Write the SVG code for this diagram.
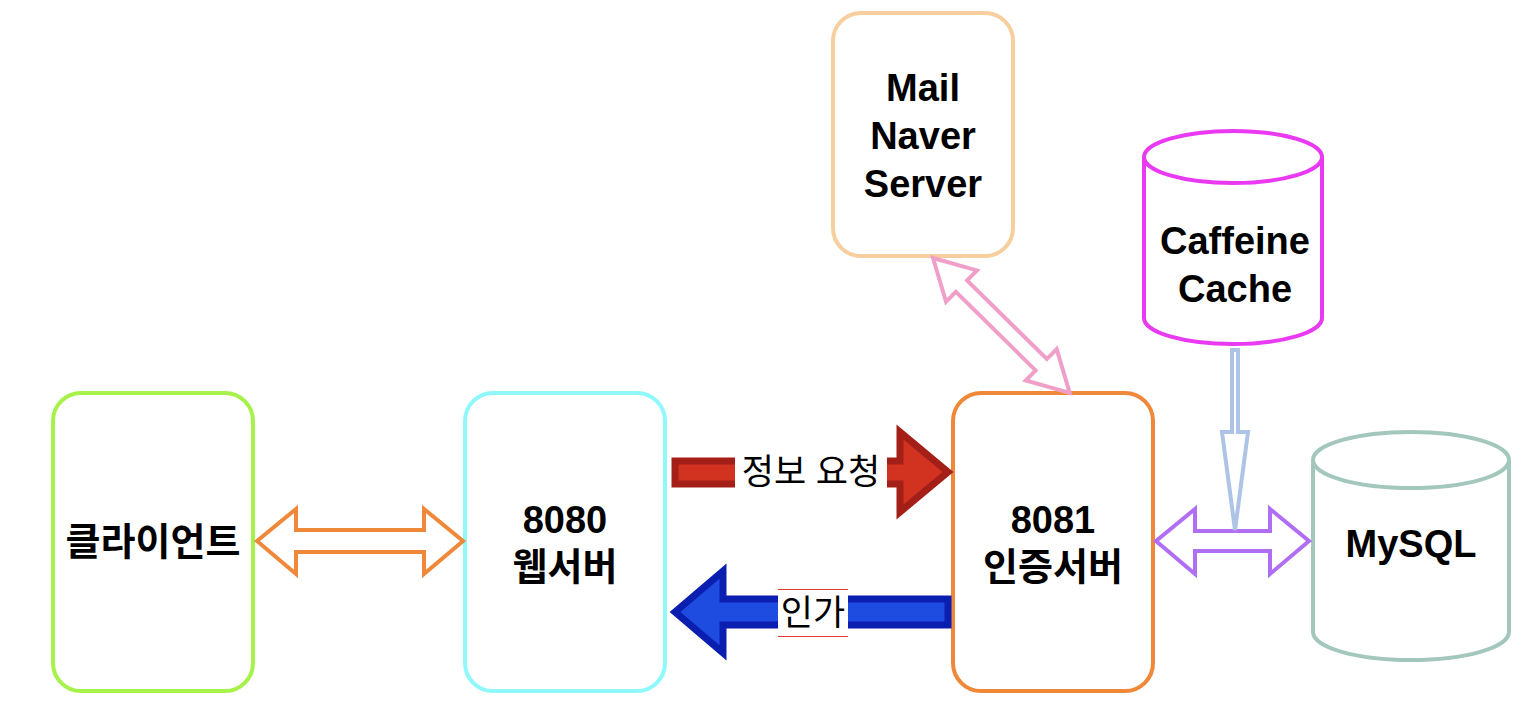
<svg xmlns="http://www.w3.org/2000/svg" width="1530" height="708" viewBox="0 0 1530 708">
<style>
.box{fill:#fff;stroke-width:4}
.t{font-family:"Liberation Sans","Noto Sans CJK KR",sans-serif;font-weight:bold;font-size:38px;text-anchor:middle;fill:#000}
.l{font-family:"Liberation Sans","Noto Sans CJK KR",sans-serif;font-size:35px;text-anchor:middle;fill:#000}
.ho{fill:#fff;stroke-width:4;stroke-linejoin:miter}
</style>
<rect width="1530" height="708" fill="#fff"/>
<g id="client"><rect class="box" x="53" y="393" width="200" height="298" rx="28" stroke="#a6f24a"/><text class="t" x="153" y="555">클라이언트</text></g>
<g id="web"><rect class="box" x="465" y="393" width="200" height="298" rx="28" stroke="#8ff8fb"/><text class="t" x="565" y="533">8080</text><text class="t" x="565" y="580">웹서버</text></g>
<g id="auth"><rect class="box" x="953" y="393" width="200" height="298" rx="28" stroke="#f0883a"/><text class="t" x="1053" y="533">8081</text><text class="t" x="1053" y="580">인증서버</text></g>
<g id="mail"><rect class="box" x="833" y="13" width="180" height="243" rx="28" stroke="#f7cf9f"/><text class="t" x="923" y="101">Mail</text><text class="t" x="923" y="149">Naver</text><text class="t" x="923" y="197">Server</text></g>
<g id="caffeine"><path class="box" stroke="#ea39f2" d="M1144,157 A89,26 0 0 1 1322,157 L1322,318 A89,26 0 0 1 1144,318 Z M1144,157 A89,26 0 0 0 1322,157"/><text class="t" x="1235" y="254">Caffeine</text><text class="t" x="1235" y="302">Cache</text></g>
<g id="mysql"><path class="box" stroke="#a3c7bd" d="M1313,460 A98,28 0 0 1 1509,460 L1509,632 A98,28 0 0 1 1313,632 Z M1313,460 A98,28 0 0 0 1509,460"/><text class="t" x="1411" y="557">MySQL</text></g>
<g id="connectors">
<polygon class="ho" stroke="#f0883a" points="257,541 296,509 296,530 424,530 424,509 463,541 424,574 424,552 296,552 296,574"/>
<polygon class="ho" stroke="#b06ef5" points="1156,541 1195,509 1195,531 1270,531 1270,509 1309,541 1270,574 1270,551 1195,551 1195,574"/>
<g transform="translate(933,258) rotate(44.6)"><polygon class="ho" stroke="#f0a0c8" points="0,0 40,-22 40,-8 152,-8 152,-22 192,0 152,22 152,8 40,8 40,22"/></g>
<polygon class="ho" stroke="#aec4e6" points="1232,350 1238,350 1238,432 1248,432 1235,530 1222,432 1232,432"/>
<polygon fill="#d23220" stroke="#a41f17" stroke-width="7" points="675,461 900,461 900,432 948,472 900,512 900,484 675,484"/>
<rect x="735" y="448" width="152" height="46" fill="#fff"/>
<text class="l" x="811" y="484">정보 요청</text>
<polygon fill="#1f4ce0" stroke="#0a1eb0" stroke-width="7" points="948,599 948,625 723,625 723,653 675,612 723,571 723,599"/>
<rect x="778" y="590" width="70" height="46" fill="#fff"/>
<line x1="778" y1="589.5" x2="848" y2="589.5" stroke="#e03a2a" stroke-width="1"/>
<line x1="778" y1="636.5" x2="848" y2="636.5" stroke="#e03a2a" stroke-width="1"/>
<text class="l" x="813" y="625">인가</text>
</g>
</svg>
